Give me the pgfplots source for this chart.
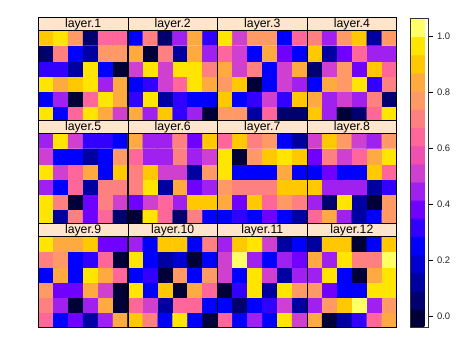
\documentclass[border=0pt]{standalone}
\usepackage{pgfplots}
\pgfplotsset{compat=1.18}
\usepackage{fontspec}
\setmainfont{Liberation Sans}
\definecolor{stripbg}{HTML}{FFE5CC}
\pgfplotsset{
  rvmap/.style={colormap={rv}{
    rgb255(0cm)=(0,0,56)      rgb255(0.95cm)=(0,0,56)
    rgb255(1cm)=(0,0,110)     rgb255(1.95cm)=(0,0,110)
    rgb255(2cm)=(0,0,160)     rgb255(2.95cm)=(0,0,160)
    rgb255(3cm)=(0,0,208)     rgb255(3.95cm)=(0,0,208)
    rgb255(4cm)=(0,0,255)     rgb255(4.95cm)=(0,0,255)
    rgb255(5cm)=(50,0,255)    rgb255(5.95cm)=(50,0,255)
    rgb255(6cm)=(112,0,255)   rgb255(6.95cm)=(112,0,255)
    rgb255(7cm)=(160,32,240)  rgb255(7.95cm)=(160,32,240)
    rgb255(8cm)=(208,64,208)  rgb255(8.95cm)=(208,64,208)
    rgb255(9cm)=(240,80,176)  rgb255(9.95cm)=(240,80,176)
    rgb255(10cm)=(255,102,153) rgb255(10.95cm)=(255,102,153)
    rgb255(11cm)=(255,128,128) rgb255(11.95cm)=(255,128,128)
    rgb255(12cm)=(255,153,102) rgb255(12.95cm)=(255,153,102)
    rgb255(13cm)=(255,170,64)  rgb255(13.95cm)=(255,170,64)
    rgb255(14cm)=(255,200,0)   rgb255(14.95cm)=(255,200,0)
    rgb255(15cm)=(255,229,0)   rgb255(15.95cm)=(255,229,0)
    rgb255(16cm)=(255,255,102) rgb255(17cm)=(255,255,102)}},
  panel/.style={scale only axis, width=89.6bp, height=90.3bp, anchor=south west,
    xmin=0.5, xmax=6.5, ymin=0.5, ymax=6.5, xtick=\empty, ytick=\empty,
    axis on top,
    rvmap, point meta min=-0.04, point meta max=1.065,
    axis line style={line width=0.8bp, black},
    every axis title shift=0pt,
    title style={at={(0.5,1)}, anchor=south, yshift=0pt, fill=stripbg, draw=black,
      line width=0.8bp, minimum width=89.6bp, minimum height=12.7bp, inner sep=0pt,
      font=\fontsize{12.3}{12.5}\selectfont}},
}
\newcommand\panel[5]{%
\begin{axis}[panel, at={(#1bp,#2bp)}, title={#3}, #5]
\addplot[matrix plot*, mesh/cols=6, point meta=explicit] coordinates {#4};
\end{axis}}
\begin{document}
\begin{tikzpicture}
\useasboundingbox (0,0) rectangle (474bp,345bp);
% row 1
\panel{38.3}{224}{layer.1}{
(1,1)[0.96] (2,1)[0.24] (3,1)[0.63] (4,1)[0.96] (5,1)[0.84] (6,1)[0.51]
(1,2)[0.24] (2,2)[0.44] (3,2)[0.00] (4,2)[0.63] (5,2)[0.96] (6,2)[0.84]
(1,3)[0.96] (2,3)[0.84] (3,3)[0.90] (4,3)[0.96] (5,3)[0.44] (6,3)[0.84]
(1,4)[0.31] (2,4)[0.31] (3,4)[0.10] (4,4)[0.96] (5,4)[0.24] (6,4)[0.00]
(1,5)[0.06] (2,5)[0.68] (3,5)[0.24] (4,5)[0.10] (5,5)[0.76] (6,5)[0.76]
(1,6)[0.90] (2,6)[0.96] (3,6)[0.76] (4,6)[0.06] (5,6)[0.63] (6,6)[0.63]}{}
\panel{127.9}{224}{layer.2}{
(1,1)[0.84] (2,1)[0.44] (3,1)[0.90] (4,1)[0.31] (5,1)[0.44] (6,1)[0.00]
(1,2)[0.31] (2,2)[0.96] (3,2)[0.10] (4,2)[0.31] (5,2)[0.24] (6,2)[0.24]
(1,3)[0.24] (2,3)[0.31] (3,3)[0.51] (4,3)[0.63] (5,3)[0.96] (6,3)[0.84]
(1,4)[0.51] (2,4)[0.96] (3,4)[0.51] (4,4)[0.96] (5,4)[0.96] (6,4)[0.68]
(1,5)[0.84] (2,5)[0.00] (3,5)[0.68] (4,5)[0.10] (5,5)[0.84] (6,5)[0.44]
(1,6)[0.24] (2,6)[0.68] (3,6)[0.06] (4,6)[0.44] (5,6)[0.84] (6,6)[0.31]}{}
\panel{217.5}{224}{layer.3}{
(1,1)[0.76] (2,1)[0.76] (3,1)[0.10] (4,1)[0.63] (5,1)[0.06] (6,1)[0.06]
(1,2)[0.90] (2,2)[0.24] (3,2)[0.31] (4,2)[0.51] (5,2)[0.31] (6,2)[0.90]
(1,3)[0.76] (2,3)[0.90] (3,3)[0.00] (4,3)[0.24] (5,3)[0.51] (6,3)[0.44]
(1,4)[0.84] (2,4)[0.51] (3,4)[0.73] (4,4)[0.24] (5,4)[0.51] (6,4)[0.84]
(1,5)[0.63] (2,5)[0.51] (3,5)[0.24] (4,5)[0.84] (5,5)[0.40] (6,5)[0.24]
(1,6)[0.96] (2,6)[0.51] (3,6)[0.78] (4,6)[0.78] (5,6)[0.24] (6,6)[0.63]}{}
\panel{307.1}{224}{layer.4}{
(1,1)[0.90] (2,1)[0.44] (3,1)[0.00] (4,1)[0.06] (5,1)[0.63] (6,1)[0.96]
(1,2)[0.84] (2,2)[0.44] (3,2)[0.51] (4,2)[0.44] (5,2)[0.68] (6,2)[0.06]
(1,3)[0.24] (2,3)[0.84] (3,3)[0.76] (4,3)[0.96] (5,3)[0.31] (6,3)[0.68]
(1,4)[0.06] (2,4)[0.51] (3,4)[0.78] (4,4)[0.40] (5,4)[0.90] (6,4)[0.63]
(1,5)[0.90] (2,5)[0.10] (3,5)[0.35] (4,5)[0.63] (5,5)[0.44] (6,5)[0.44]
(1,6)[0.68] (2,6)[0.44] (3,6)[0.78] (4,6)[0.90] (5,6)[0.10] (6,6)[0.76]}{}
% row 2
\panel{38.3}{121}{layer.5}{
(1,1)[0.96] (2,1)[0.10] (3,1)[0.68] (4,1)[0.35] (5,1)[0.63] (6,1)[0.06]
(1,2)[0.96] (2,2)[0.73] (3,2)[0.00] (4,2)[0.35] (5,2)[0.70] (6,2)[0.51]
(1,3)[0.44] (2,3)[0.24] (3,3)[0.63] (4,3)[0.10] (5,3)[0.70] (6,3)[0.70]
(1,4)[0.96] (2,4)[0.51] (3,4)[0.63] (4,4)[0.84] (5,4)[0.24] (6,4)[0.90]
(1,5)[0.51] (2,5)[0.24] (3,5)[0.24] (4,5)[0.10] (5,5)[0.24] (6,5)[0.76]
(1,6)[0.44] (2,6)[0.96] (3,6)[0.51] (4,6)[0.31] (5,6)[0.31] (6,6)[0.24]}{}
\panel{127.9}{121}{layer.6}{
(1,1)[0.00] (2,1)[0.96] (3,1)[0.63] (4,1)[0.06] (5,1)[0.68] (6,1)[0.24]
(1,2)[0.35] (2,2)[0.51] (3,2)[0.63] (4,2)[0.44] (5,2)[0.90] (6,2)[0.90]
(1,3)[0.68] (2,3)[0.96] (3,3)[0.10] (4,3)[0.84] (5,3)[0.40] (6,3)[0.44]
(1,4)[0.68] (2,4)[0.90] (3,4)[0.51] (4,4)[0.51] (5,4)[0.10] (6,4)[0.76]
(1,5)[0.63] (2,5)[0.44] (3,5)[0.44] (4,5)[0.73] (5,5)[0.44] (6,5)[0.51]
(1,6)[0.84] (2,6)[0.44] (3,6)[0.44] (4,6)[0.68] (5,6)[0.38] (6,6)[0.90]}{}
\panel{217.5}{121}{layer.7}{
(1,1)[0.24] (2,1)[0.31] (3,1)[0.24] (4,1)[0.35] (5,1)[0.24] (6,1)[0.10]
(1,2)[0.84] (2,2)[0.40] (3,2)[0.90] (4,2)[0.63] (5,2)[0.76] (6,2)[0.68]
(1,3)[0.76] (2,3)[0.68] (3,3)[0.68] (4,3)[0.68] (5,3)[0.90] (6,3)[0.90]
(1,4)[0.96] (2,4)[0.24] (3,4)[0.24] (4,4)[0.24] (5,4)[0.84] (6,4)[0.24]
(1,5)[0.96] (2,5)[0.00] (3,5)[0.80] (4,5)[0.90] (5,5)[0.96] (6,5)[0.90]
(1,6)[0.63] (2,6)[0.90] (3,6)[0.68] (4,6)[0.76] (5,6)[0.24] (6,6)[0.10]}{}
\panel{307.1}{121}{layer.8}{
(1,1)[0.63] (2,1)[0.84] (3,1)[0.47] (4,1)[0.10] (5,1)[0.24] (6,1)[0.78]
(1,2)[0.47] (2,2)[0.06] (3,2)[0.96] (4,2)[0.10] (5,2)[0.00] (6,2)[0.78]
(1,3)[0.90] (2,3)[0.44] (3,3)[0.44] (4,3)[0.44] (5,3)[0.10] (6,3)[0.31]
(1,4)[0.24] (2,4)[0.35] (3,4)[0.24] (4,4)[0.24] (5,4)[0.90] (6,4)[0.63]
(1,5)[0.35] (2,5)[0.70] (3,5)[0.51] (4,5)[0.63] (5,5)[0.84] (6,5)[0.96]
(1,6)[0.51] (2,6)[0.90] (3,6)[0.78] (4,6)[0.51] (5,6)[0.44] (6,6)[0.78]}{}
% row 3
\panel{38.3}{18}{layer.9}{
(1,1)[0.63] (2,1)[0.24] (3,1)[0.35] (4,1)[0.10] (5,1)[0.44] (6,1)[0.84]
(1,2)[0.68] (2,2)[0.44] (3,2)[0.00] (4,2)[0.47] (5,2)[0.84] (6,2)[0.00]
(1,3)[0.76] (2,3)[0.40] (3,3)[0.40] (4,3)[0.84] (5,3)[0.51] (6,3)[0.00]
(1,4)[0.24] (2,4)[0.84] (3,4)[0.24] (4,4)[0.96] (5,4)[0.84] (6,4)[0.63]
(1,5)[0.68] (2,5)[0.76] (3,5)[0.24] (4,5)[0.31] (5,5)[0.63] (6,5)[0.00]
(1,6)[0.96] (2,6)[0.84] (3,6)[0.84] (4,6)[0.90] (5,6)[0.38] (6,6)[0.38]}{}
\panel{127.9}{18}{layer.10}{
(1,1)[0.88] (2,1)[0.70] (3,1)[0.24] (4,1)[0.96] (5,1)[0.24] (6,1)[0.00]
(1,2)[0.63] (2,2)[0.51] (3,2)[0.10] (4,2)[0.63] (5,2)[0.63] (6,2)[0.24]
(1,3)[0.96] (2,3)[0.24] (3,3)[0.90] (4,3)[0.00] (5,3)[0.84] (6,3)[0.63]
(1,4)[0.24] (2,4)[0.31] (3,4)[0.00] (4,4)[0.76] (5,4)[0.24] (6,4)[0.76]
(1,5)[0.96] (2,5)[0.24] (3,5)[0.10] (4,5)[0.20] (5,5)[0.00] (6,5)[0.24]
(1,6)[0.44] (2,6)[0.24] (3,6)[0.90] (4,6)[0.90] (5,6)[0.24] (6,6)[0.68]}{}
\panel{217.5}{18}{layer.11}{
(1,1)[0.63] (2,1)[0.24] (3,1)[0.44] (4,1)[0.24] (5,1)[0.96] (6,1)[0.51]
(1,2)[0.24] (2,2)[0.06] (3,2)[0.24] (4,2)[0.31] (5,2)[0.51] (6,2)[0.10]
(1,3)[0.00] (2,3)[0.31] (3,3)[0.96] (4,3)[0.10] (5,3)[0.96] (6,3)[0.76]
(1,4)[0.51] (2,4)[0.24] (3,4)[0.96] (4,4)[0.51] (5,4)[0.10] (6,4)[0.44]
(1,5)[0.51] (2,5)[1.03] (3,5)[0.44] (4,5)[0.24] (5,5)[0.44] (6,5)[0.35]
(1,6)[0.44] (2,6)[0.90] (3,6)[0.96] (4,6)[0.51] (5,6)[0.10] (6,6)[0.24]}{}
\panel{307.1}{18}{layer.12}{
(1,1)[0.84] (2,1)[0.00] (3,1)[0.10] (4,1)[0.31] (5,1)[0.63] (6,1)[0.84]
(1,2)[0.44] (2,2)[0.76] (3,2)[0.90] (4,2)[1.03] (5,2)[0.44] (6,2)[0.76]
(1,3)[0.76] (2,3)[0.35] (3,3)[0.24] (4,3)[0.24] (5,3)[0.96] (6,3)[0.96]
(1,4)[0.44] (2,4)[0.96] (3,4)[0.24] (4,4)[0.00] (5,4)[0.84] (6,4)[0.96]
(1,5)[0.84] (2,5)[0.44] (3,5)[0.96] (4,5)[0.68] (5,5)[0.68] (6,5)[1.03]
(1,6)[0.10] (2,6)[0.90] (3,6)[0.90] (4,6)[0.00] (5,6)[0.24] (6,6)[0.90]}{
colorbar, colorbar style={at={(parent axis.south east)}, anchor=south west,
  xshift=5bp, scale only axis, width=18.3bp, height=309bp,
  ytick={0,0.2,0.4,0.6,0.8,1.0}, ytick pos=right, yticklabel pos=right,
  tick align=outside, major tick length=4bp, tick style={black, line width=0.6bp},
  axis line style={line width=0.6bp, black!80},
  yticklabel style={font=\fontsize{9.5}{10}\selectfont, xshift=1bp, text=black!85,
    /pgf/number format/fixed, /pgf/number format/fixed zerofill,
    /pgf/number format/precision=1, /pgf/number format/assume math mode=true}}}
\end{tikzpicture}
\end{document}
